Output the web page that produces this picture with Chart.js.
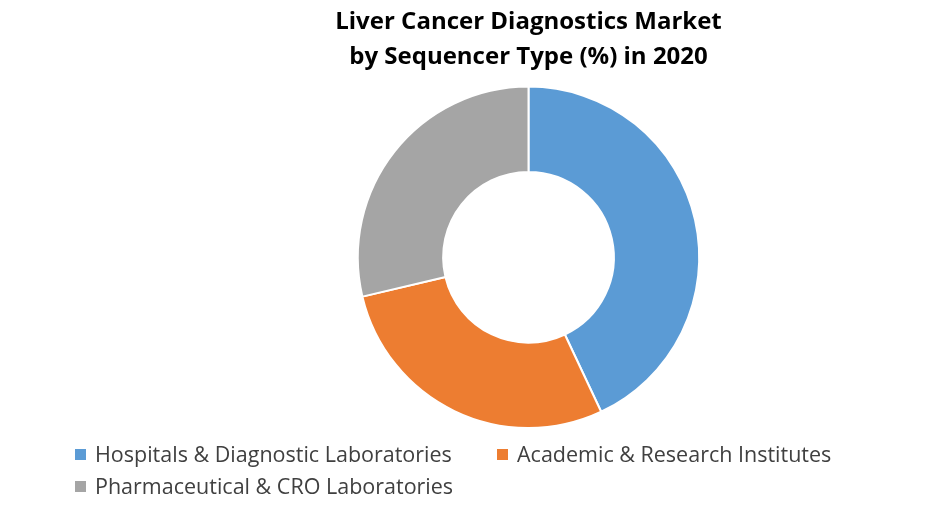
<!DOCTYPE html>
<html>
<head>
<script src="https://cdn.jsdelivr.net/npm/chart.js"></script>
<style>
  body { margin: 0; background: #fff; }
  #wrap { position: relative; width: 941px; height: 518px; }
  .leg { position: absolute; font-family: 'Open Sans', sans-serif; font-size: 21.5px; color: #404040; white-space: nowrap; }
  .leg span.box { display: inline-block; width: 11px; height: 11px; margin-right: 9px; vertical-align: 2px; }
</style>
</head>
<body>
<div id="wrap">
  <canvas id="c" width="941" height="518"></canvas>
  <div id="legend"></div>
</div>
<script>
const categories = ['Hospitals & Diagnostic Laboratories', 'Academic & Research Institutes', 'Pharmaceutical & CRO Laboratories'];
const shares = [43, 28.3, 28.7];
const colors = ['#5b9bd5', '#ed7d31', '#a5a5a5'];

const legendPos = [[75, 439], [497, 439], [75, 471]];
const legendEl = document.getElementById('legend');
categories.forEach(function(name, i) {
    const d = document.createElement('div');
    d.className = 'leg';
    d.style.left = legendPos[i][0] + 'px';
    d.style.top = legendPos[i][1] + 'px';
    d.innerHTML = '<span class="box" style="background:' + colors[i] + '"></span>';
    d.appendChild(document.createTextNode(name));
    legendEl.appendChild(d);
});

new Chart(document.getElementById('c'), {
    type: 'doughnut',
    data: {
        labels: categories,
        datasets: [{
            data: shares,
            backgroundColor: colors,
            borderColor: '#fff',
            borderWidth: 2
        }]
    },
    options: {
        responsive: false,
        animation: false,
        cutout: '50%',
        layout: { padding: { left: 116, right: 0, top: 0, bottom: 89 } },
        plugins: {
            legend: { display: false },
            tooltip: { enabled: false },
            title: {
                display: true,
                text: ['Liver Cancer Diagnostics Market', 'by Sequencer Type (%) in 2020'],
                color: '#000',
                font: { family: "'Open Sans', sans-serif", size: 24, weight: 'bold', lineHeight: 1.45 },
                padding: { top: 5, bottom: 11 }
            }
        }
    }
});
</script>
</body>
</html>
